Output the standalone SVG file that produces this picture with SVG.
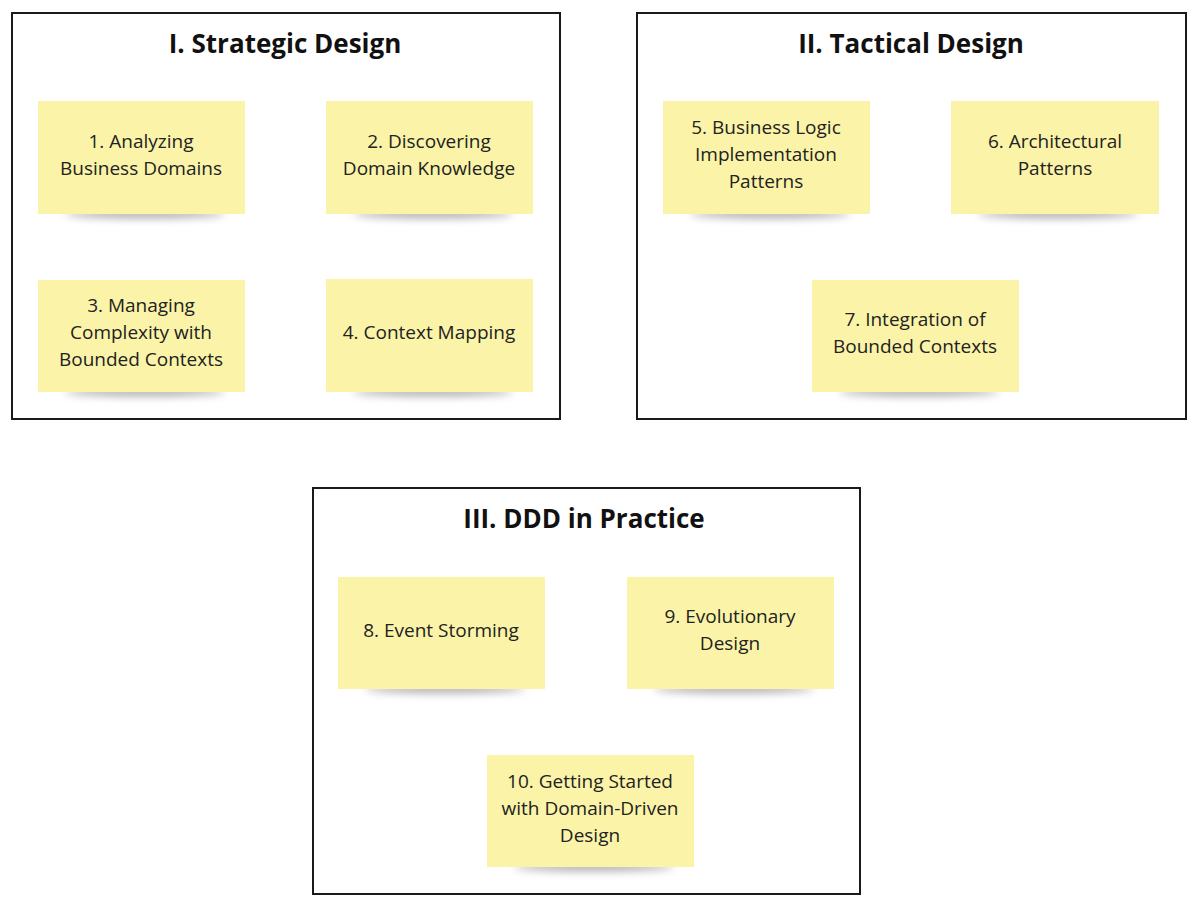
<svg xmlns="http://www.w3.org/2000/svg" width="1200" height="908" viewBox="0 0 1200 908">
<style>
.frame{fill:#fff;stroke:#1a1a1a;stroke-width:2}
.title{font-family:"Open Sans",sans-serif;font-weight:bold;font-size:26px;fill:#111;text-anchor:middle}
.note{fill:#fbf4a8}
.sh{fill:#000;opacity:0.35;filter:url(#blur)}
.t{font-family:"Open Sans",sans-serif;font-size:19px;fill:#222;text-anchor:middle}
</style>
<defs><filter id="blur" x="-20%" y="-200%" width="140%" height="500%"><feGaussianBlur stdDeviation="4"/></filter></defs>
<rect width="1200" height="908" fill="#fff"/>
<g id="frame1"><rect class="frame" x="12" y="13" width="548" height="406"/><text class="title" x="285" y="53">I. Strategic Design</text></g>
<g id="frame2"><rect class="frame" x="637" y="13" width="549" height="406"/><text class="title" x="911" y="53">II. Tactical Design</text></g>
<g id="frame3"><rect class="frame" x="313" y="488" width="547" height="406"/><text class="title" x="584" y="528">III. DDD in Practice</text></g>
<g id="n1"><ellipse class="sh" cx="145" cy="214" rx="80" ry="4"/><rect class="note" x="38" y="101" width="207" height="113"/><text class="t" x="141" y="148">1. Analyzing</text><text class="t" x="141" y="175">Business Domains</text></g>
<g id="n2"><ellipse class="sh" cx="433" cy="214" rx="80" ry="4"/><rect class="note" x="326" y="101" width="207" height="113"/><text class="t" x="429" y="148">2. Discovering</text><text class="t" x="429" y="175">Domain Knowledge</text></g>
<g id="n3"><ellipse class="sh" cx="145" cy="392" rx="80" ry="4"/><rect class="note" x="38" y="280" width="207" height="112"/><text class="t" x="141" y="312">3. Managing</text><text class="t" x="141" y="339">Complexity with</text><text class="t" x="141" y="366">Bounded Contexts</text></g>
<g id="n4"><ellipse class="sh" cx="433" cy="392" rx="80" ry="4"/><rect class="note" x="326" y="279" width="207" height="113"/><text class="t" x="429" y="339">4. Context Mapping</text></g>
<g id="n5"><ellipse class="sh" cx="770" cy="214" rx="80" ry="4"/><rect class="note" x="663" y="101" width="207" height="113"/><text class="t" x="766" y="134">5. Business Logic</text><text class="t" x="766" y="161">Implementation</text><text class="t" x="766" y="188">Patterns</text></g>
<g id="n6"><ellipse class="sh" cx="1058" cy="214" rx="80" ry="4"/><rect class="note" x="951" y="101" width="208" height="113"/><text class="t" x="1055" y="148">6. Architectural</text><text class="t" x="1055" y="175">Patterns</text></g>
<g id="n7"><ellipse class="sh" cx="919" cy="392" rx="80" ry="4"/><rect class="note" x="812" y="280" width="207" height="112"/><text class="t" x="915" y="326">7. Integration of</text><text class="t" x="915" y="353">Bounded Contexts</text></g>
<g id="n8"><ellipse class="sh" cx="445" cy="689" rx="80" ry="4"/><rect class="note" x="338" y="577" width="207" height="112"/><text class="t" x="441" y="637">8. Event Storming</text></g>
<g id="n9"><ellipse class="sh" cx="734" cy="689" rx="80" ry="4"/><rect class="note" x="627" y="577" width="207" height="112"/><text class="t" x="730" y="623">9. Evolutionary</text><text class="t" x="730" y="650">Design</text></g>
<g id="n10"><ellipse class="sh" cx="594" cy="867" rx="80" ry="4"/><rect class="note" x="487" y="755" width="207" height="112"/><text class="t" x="590" y="788">10. Getting Started</text><text class="t" x="590" y="815">with Domain-Driven</text><text class="t" x="590" y="842">Design</text></g>
<g id="connectors"/>
</svg>
